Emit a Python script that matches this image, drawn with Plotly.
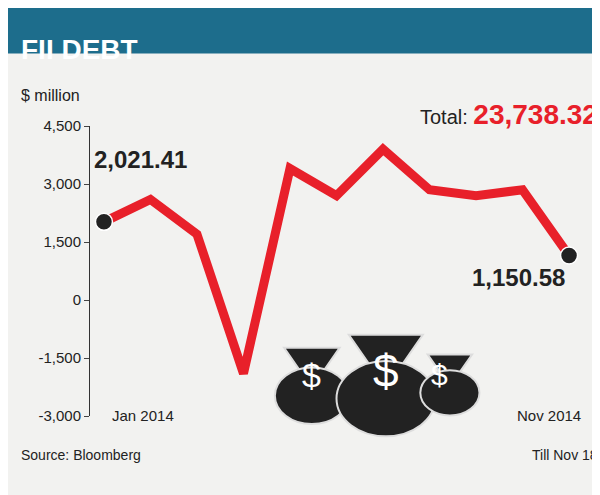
import plotly.graph_objects as go

months = ["Jan", "Feb", "Mar", "Apr", "May", "Jun", "Jul", "Aug", "Sep", "Oct", "Nov"]
values = [2021.41, 2600, 1700, -1900, 3400, 2700, 3900, 2850, 2700, 2850, 1150.58]
tick_vals = [-3000, -1500, 0, 1500, 3000, 4500]
tick_text = ["-3,000", "-1,500", "0", "1,500", "3,000", "4,500"]

fig = go.Figure()
fig.add_trace(go.Scatter(x=list(range(len(months))), y=values, mode="lines",
                         line=dict(color="#e8202a", width=9), hoverinfo="skip"))
fig.add_trace(go.Scatter(x=[0, len(months) - 1], y=[values[0], values[-1]], mode="markers",
                         marker=dict(color="#222", size=17, line=dict(color="white", width=1.5))))

# header band
fig.add_shape(type="rect", xref="paper", yref="paper", x0=-0.2, x1=1.1, y0=1.25, y1=1.5,
              fillcolor="#1d6d8c", line_width=0, layer="below")
fig.add_annotation(xref="paper", yref="paper", x=-0.145, y=1.325, text="<b>FII DEBT</b>",
                   showarrow=False, xanchor="left", font=dict(size=28, color="white"))
fig.add_annotation(xref="paper", yref="paper", x=-0.145, y=1.14, text="$ million",
                   showarrow=False, xanchor="left", font=dict(size=16, color="#222"))
fig.add_annotation(xref="paper", yref="paper", x=1.035, y=1.10,
                   text="Total: <b><span style='color:#e8202a;font-size:28px'>23,738.32</span></b>",
                   showarrow=False, xanchor="right", font=dict(size=20, color="#222"))
fig.add_annotation(x=0, y=values[0], text="<b>2,021.41</b>", showarrow=False, xanchor="left",
                   yshift=62, xshift=-12, font=dict(size=24, color="#222"))
fig.add_annotation(x=10, y=values[-1], text="<b>1,150.58</b>", showarrow=False, xanchor="right",
                   yshift=-22, xshift=-2, font=dict(size=24, color="#222"))
fig.add_annotation(xref="paper", yref="paper", x=0.04, y=-0.035, text="Jan 2014",
                   showarrow=False, xanchor="left", font=dict(size=15, color="#222"))
fig.add_annotation(xref="paper", yref="paper", x=1.0, y=-0.035, text="Nov 2014",
                   showarrow=False, xanchor="right", font=dict(size=15, color="#222"))
fig.add_annotation(xref="paper", yref="paper", x=-0.145, y=-0.17, text="Source: Bloomberg",
                   showarrow=False, xanchor="left", font=dict(size=14, color="#222"))
fig.add_annotation(xref="paper", yref="paper", x=1.035, y=-0.17, text="Till Nov 18",
                   showarrow=False, xanchor="right", font=dict(size=14, color="#222"))

# money bags (decorative)
for cx, cy, r, fs in [(0.45, 0.07, 0.075, 34), (0.60, 0.06, 0.10, 46), (0.73, 0.08, 0.06, 30)]:
    fig.add_shape(type="path", xref="paper", yref="paper",
                  path=f"M {cx-r*0.3} {cy+r*1.1} L {cx-r*0.75} {cy+r*2.2} L {cx+r*0.75} {cy+r*2.2} L {cx+r*0.3} {cy+r*1.1} Z",
                  fillcolor="#222", line=dict(color="#ddd", width=2))
    fig.add_shape(type="circle", xref="paper", yref="paper", x0=cx - r, x1=cx + r,
                  y0=cy - r * 1.3, y1=cy + r * 1.3, fillcolor="#222", line=dict(color="#ddd", width=2))
    fig.add_annotation(xref="paper", yref="paper", x=cx, y=cy, text="$", showarrow=False,
                       font=dict(size=fs, color="white"))

fig.update_layout(
    width=600, height=495, paper_bgcolor="#f2f2f0", plot_bgcolor="#f2f2f0",
    margin=dict(l=82, r=25, t=118, b=87), showlegend=False,
    font=dict(family="Liberation Sans, Arial"),
)
fig.update_xaxes(range=[-0.3, 10.3], visible=False)
fig.update_yaxes(range=[-3000, 4500], tickvals=tick_vals, ticktext=tick_text, showgrid=False,
                 zeroline=False, showline=True, linecolor="#333", ticks="outside", ticklen=5,
                 tickfont=dict(size=15, color="#222"))
fig.write_html("out.html")
